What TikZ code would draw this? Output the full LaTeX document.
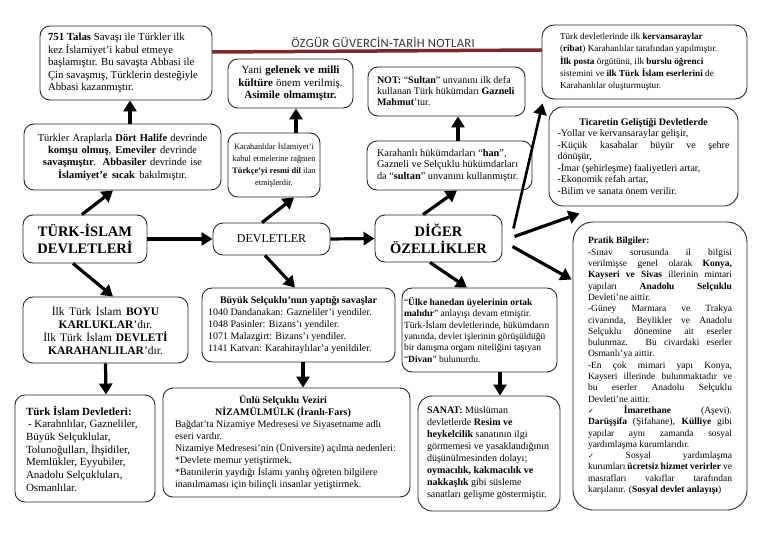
\documentclass[tikz,border=0pt]{standalone}
\usepackage{fontspec}
\setmainfont{Liberation Serif}
\newfontfamily\titlefont[LetterSpace=2.5]{Carlito}
\newfontfamily\symfont{DejaVu Sans}
\usetikzlibrary{arrows.meta,calc}
\newcommand\fs[2]{\fontsize{#1}{#2}\selectfont}
\newcommand\ns{\spaceskip=0pt\relax\xspaceskip=0pt\relax}
\newcommand\jl[2]{{\ns\makebox[#1][s]{#2}}}
\newcommand\chk{{\symfont\fontsize{7}{7}\selectfont ✓}}
\begin{document}
\begin{tikzpicture}[x=1pt,y=-1pt,
  box/.style={draw=black!85, line width=0.9pt, rounded corners=10pt, inner sep=0pt, fill=white},
  arr/.style={line width=3.2pt, -{Triangle[length=11pt,width=13pt]}},
  redline/.style={line width=3.5pt, draw={rgb,255:red,122;green,40;blue,40}},
]
\useasboundingbox (0,0) rectangle (768,543);

% title and rule
\node[font=\titlefont\fs{12.6}{13}, text=black!80] (title) at (383,42) {ÖZGÜR GÜVERCİN-TARİH NOTLARI};
\draw[redline] (212,52) -- (542,50);

% top row
\node[box, minimum width=172pt, minimum height=74pt, text width=156pt, align=left, font=\fs{10.8}{12.5}] (b1) at (126,63) {\ns
\textbf{751 Talas} Savaşı ile Türkler ilk\\
kez İslamiyet’i kabul etmeye\\
başlamıştır. Bu savaşta Abbasi ile\\
Çin savaşmış, Türklerin desteğiyle\\
Abbasi kazanmıştır.};

\node[box, minimum width=125pt, minimum height=49pt, text width=120pt, align=center, font=\fs{11}{12.5}] (b2) at (290.5,83.5) {\ns
Yani \textbf{gelenek ve milli}\\
\textbf{kültüre} önem verilmiş.\\
\textbf{Asimile olmamıştır.}};

\node[box, minimum width=157pt, minimum height=49pt, text width=139pt, align=left, font=\fs{10}{11}] (b3) at (446.5,91.5) {\ns
\textbf{NOT:} “\textbf{Sultan}” unvanını ilk defa\\
kullanan Türk hükümdarı \textbf{Gazneli}\\
\textbf{Mahmut}’tur.};

\node[box, rounded corners=12pt, minimum width=205pt, minimum height=74pt, text width=169pt, align=left, font=\fs{9.2}{12.3}] (b4) at (644.5,62) {\ns
Türk devletlerinde ilk \textbf{kervansaraylar}\\
(\textbf{ribat}) Karahanlılar tarafından yapılmıştır.\\
\textbf{İlk posta} örgütünü, ilk \textbf{burslu öğrenci}\\
sistemini ve \textbf{ilk Türk İslam eserlerini} de\\
Karahanlılar oluşturmuştur.};

% second row
\node[box, minimum width=197pt, minimum height=66pt, text width=190pt, align=center, font=\fs{10.5}{12.3}] (b5) at (122.5,157) {\ns
Türkler Araplarla \textbf{Dört Halife} devrinde\\
\textbf{komşu olmuş}, \textbf{Emeviler} devrinde\\
\textbf{savaşmıştır}. \textbf{Abbasiler} devrinde ise\\
\textbf{İslamiyet’e sıcak} bakılmıştır.};

\node[box, minimum width=92pt, minimum height=64pt, text width=90pt, align=center, font=\fs{8.3}{12.3}] (b6) at (274,165) {\ns
Karahanlılar İslamiyet’i\\
kabul etmelerine rağmen\\
\textbf{Türkçe’yi resmi dil} ilan\\
etmişlerdir.};

\node[box, minimum width=165pt, minimum height=49pt, text width=145pt, align=left, font=\fs{10.3}{11.5}] (b7) at (449.5,165.5) {\ns
Karahanlı hükümdarları “\textbf{han}”,\\
Gazneli ve Selçuklu hükümdarları\\
da “\textbf{sultan}” unvanını kullanmıştır.};

\node[box, rounded corners=14pt, minimum width=189pt, minimum height=99pt, text width=172pt, align=left, font=\fs{10}{11.5}] (bT) at (643.5,156.5) {\ns
\makebox[172pt]{\textbf{Ticaretin Geliştiği Devletlerde}}\\
-Yollar ve kervansaraylar gelişir,\\
\jl{172pt}{-Küçük kasabalar büyür ve şehre}\\
dönüşür,\\
-İmar (şehirleşme) faaliyetleri artar,\\
-Ekonomik refah artar,\\
-Bilim ve sanata önem verilir.};

% middle row
\node[box, minimum width=124pt, minimum height=48pt, text width=120pt, align=center, font=\bfseries\fs{14.5}{17}] (bTI) at (85,239) {TÜRK-İSLAM\\DEVLETLERİ};
\node[box, minimum width=117pt, minimum height=32pt, font=\fs{12}{14}] (bD) at (271.5,239) {DEVLETLER};
\node[box, minimum width=127pt, minimum height=47pt, text width=120pt, align=center, font=\bfseries\fs{14.5}{17}] (bO) at (438.5,238.5) {DİĞER\\ÖZELLİKLER};

% right tall box
\node[box, rounded corners=20pt, minimum width=174pt, minimum height=288pt, text width=144pt, align=left, font=\fs{9.5}{11.3}] (bP) at (660,366) {\ns
\textbf{Pratik Bilgiler:}\\
\jl{144pt}{-Sınav sorusunda il bilgisi}\\
\jl{144pt}{verilmişse genel olarak \textbf{Konya,}}\\
\jl{144pt}{\textbf{Kayseri ve Sivas} illerinin mimari}\\
\jl{144pt}{yapıları \textbf{Anadolu Selçuklu}}\\
Devleti’ne aittir.\\
\jl{144pt}{-Güney Marmara ve Trakya}\\
\jl{144pt}{civarında, Beylikler ve Anadolu}\\
\jl{144pt}{Selçuklu dönemine ait eserler}\\
\jl{144pt}{bulunmaz. Bu civardaki eserler}\\
Osmanlı’ya aittir.\\
\jl{144pt}{-En çok mimari yapı Konya,}\\
\jl{144pt}{Kayseri illerinde bulunmaktadır ve}\\
\jl{144pt}{bu eserler Anadolu Selçuklu}\\
Devleti’ne aittir.\\
\jl{144pt}{\chk{} \textbf{İmarethane} (Aşevi).}\\
\jl{144pt}{\textbf{Darüşşifa} (Şifahane), \textbf{Külliye} gibi}\\
\jl{144pt}{yapılar aynı zamanda sosyal}\\
yardımlaşma kurumlarıdır.\\
\jl{144pt}{\chk{} Sosyal yardımlaşma}\\
\jl{144pt}{kurumları \textbf{ücretsiz hizmet verirler} ve}\\
\jl{144pt}{masrafları vakıflar tarafından}\\
karşılanır. (\textbf{Sosyal devlet anlayışı})};

% lower rows
\node[box, minimum width=165pt, minimum height=66pt, text width=160pt, align=center, font=\fs{11.5}{13}] (bK) at (105.5,330) {\ns
İlk Türk İslam \textbf{BOYU}\\
\textbf{KARLUKLAR}’dır.\\
İlk Türk İslam \textbf{DEVLETİ}\\
\textbf{KARAHANLILAR}’dır.};

\node[box, minimum width=193pt, minimum height=74pt, text width=181pt, align=left, font=\fs{10}{12}] (bS) at (298.5,325) {\ns
\makebox[181pt]{\textbf{Büyük Selçuklu’nun yaptığı savaşlar}}\\
1040 Dandanakan: Gazneliler’i yendiler.\\
1048 Pasinler: Bizans’ı yendiler.\\
1071 Malazgirt: Bizans’ı yendiler.\\
1141 Katvan: Karahitaylılar’a yenildiler.};

\node[box, minimum width=155pt, minimum height=84pt, text width=151pt, align=left, font=\fs{9.5}{11.3}] (bU) at (479.5,330) {\ns
“\textbf{Ülke hanedan üyelerinin ortak}\\
\textbf{malıdır}” anlayışı devam etmiştir.\\
Türk-İslam devletlerinde, hükümdarın\\
yanında, devlet işlerinin görüşüldüğü\\
bir danışma organı niteliğini taşıyan\\
“\textbf{Divan}” bulunurdu.};

\node[box, minimum width=140pt, minimum height=107pt, text width=118pt, align=left, font=\fs{11}{12.7}] (bL) at (85,448.5) {\ns
\textbf{Türk İslam Devletleri:}\\
\hspace*{2pt}- Karahnlılar, Gazneliler,\\
Büyük Selçuklular,\\
Tolunoğulları, İhşidiler,\\
Memlükler, Eyyubiler,\\
Anadolu Selçukluları,\\
Osmanlılar.};

\node[box, minimum width=247pt, minimum height=109pt, text width=223pt, align=left, font=\fs{10}{12}] (bN) at (286.5,442.5) {\ns
\makebox[216pt]{\textbf{Ünlü Selçuklu Veziri}}\\
\makebox[216pt]{\textbf{NİZAMÜLMÜLK (İranlı-Fars)}}\\
Bağdat’ta Nizamiye Medresesi ve Siyasetname adlı\\
eseri vardır.\\
Nizamiye Medresesi’nin (Üniversite) açılma nedenleri:\\{}
*Devlete memur yetiştirmek.\\{}
*Batınilerin yaydığı İslamı yanlış öğreten bilgilere\\
inanılmaması için bilinçli insanlar yetiştirmek.};

\node[box, rounded corners=14pt, minimum width=142pt, minimum height=115pt, text width=124pt, align=left, font=\fs{10}{12}] (bA) at (489,453.5) {\ns
\textbf{SANAT:} Müslüman\\
devletlerde \textbf{Resim ve}\\
\textbf{heykelcilik} sanatının ilgi\\
görmemesi ve yasaklandığının\\
düşünülmesinden dolayı;\\
\textbf{oymacılık, kakmacılık ve}\\
\textbf{nakkaşlık} gibi süsleme\\
sanatları gelişme göstermiştir.};

% connectors
\draw[arr] ([xshift=7.5pt]b5.north) -- ([xshift=4pt]b1.south);
\draw[arr] ([xshift=-3pt]bTI.north) -- ([xshift=-9.5pt]b5.south);
\draw[arr] (bTI.east) -- (bD.west);
\draw[arr] ([xshift=-12pt]bTI.south) -- ([xshift=7.5pt]bK.north);
\draw[arr] (bK.south) -- ([xshift=21pt]bL.north);
\draw[arr] ([xshift=-9.5pt]bD.north) -- ([xshift=20pt]b6.south);
\draw[arr] ([xshift=22pt]b6.north) -- ([xshift=5.5pt]b2.south);
\draw[arr] (bD.east) -- (bO.west);
\draw[arr] ([xshift=-6.5pt]bD.south) -- ([xshift=-3.5pt]bS.north);
\draw[arr] ([xshift=4.5pt]bS.south) -- ([xshift=16.5pt]bN.north);
\draw[arr] ([xshift=-15.5pt]bO.north) -- ([xshift=7.5pt]b7.south);
\draw[arr] ([xshift=8.5pt]b7.north) -- ([xshift=11.5pt]b3.south);
\draw[arr] ([xshift=-8.5pt]bO.south) -- ([xshift=-12.5pt]bU.north);
\draw[arr] ([xshift=20.5pt]bU.south) -- ([xshift=11pt]bA.north);
\draw[arr, line width=2.6pt] ($(bO.east)+(11,-10)$) -- ($(b4.south west)+(1,4)$);
\draw[arr] ($(bO.east)+(12,-2)$) -- ($(bT.south west)+(31,7)$);
\draw[arr] ($(bO.east)+(10,8)$) -- ($(bP.north west)+(-1,58)$);
\end{tikzpicture}
\end{document}
